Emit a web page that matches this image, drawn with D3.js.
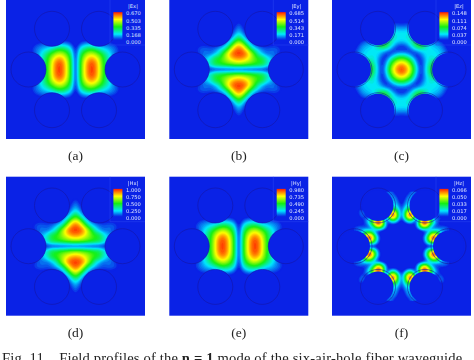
<!DOCTYPE html>
<html>
<head>
<meta charset="utf-8">
<script src="https://cdn.jsdelivr.net/npm/d3@7"></script>
<style>
    html, body { margin: 0; padding: 0; background: white; overflow: hidden; }
    svg { display: block; filter: blur(0.35px); }
</style>
</head>
<body>
<div id="chart"></div>
<script>
// Panel labels and legend texts
const panelLabels = ["(a)", "(b)", "(c)", "(d)", "(e)", "(f)"];
const fieldTitles = ["|Ex|", "|Ey|", "|Ez|", "|Hx|", "|Hy|", "|Hz|"];
const tickLabels = [
    ["0.670", "0.503", "0.335", "0.168", "0.000"],
    ["0.685", "0.514", "0.343", "0.171", "0.000"],
    ["0.148", "0.111", "0.074", "0.037", "0.000"],
    ["1.000", "0.750", "0.500", "0.250", "0.000"],
    ["0.980", "0.735", "0.490", "0.245", "0.000"],
    ["0.066", "0.050", "0.033", "0.017", "0.000"]
];
const tickLevels = [100, 75, 50, 25, 0];

// Air holes of the fiber, angle around the core in degrees
const holeAngles = [0, 60, 120, 180, 240, 300];
const holePitch = 47;
const holeRadius = 17.5;
// Radius where the drawn field stops, it runs a bit over the outline in (c) and (f)
const maskRadius = [17.5, 17.5, 16.5, 17.5, 17.5, 15.5];

// Field, percent of the panel maximum.
// One quadrant only (x to the right, y down from the core), rows are y, the
// profiles are mirror symmetric. Ex and Hy have the same shape, so do Ey and Hx.
const fieldEx = [
    [0, 45, 72, 90, 100, 92, 74, 52, 42],
    [0, 45, 72, 90, 100, 92, 74, 52, 42],
    [0, 44, 70, 87, 95, 88, 72, 50, 38, 15],
    [0, 42, 64, 78, 85, 78, 66, 50, 36, 24, 10],
    [0, 36, 54, 66, 70, 64, 54, 42, 32, 22, 12, 5],
    [0, 28, 40, 48, 50, 45, 36, 28, 24, 18, 15, 8, 1],
    [0, 14, 24, 28, 28, 22, 16, 16, 16, 14, 10, 3],
    [0, 5, 8, 8, 8, 6, 4, 4, 6, 4, 3, 1],
    [0, 1, 1, 1]
];
const fieldEy = [
    [0],
    [55, 54, 52, 50, 48, 46, 44, 32, 24, 15, 8],
    [78, 76, 70, 65, 58, 52, 48, 35, 26, 16, 8],
    [92, 90, 82, 70, 58, 50, 45, 30, 22, 14, 8],
    [100, 98, 90, 72, 52, 30, 20, 12, 14, 14, 8, 3],
    [96, 90, 72, 48, 32, 22, 15, 13, 14, 14, 12, 6, 1],
    [85, 75, 50, 28, 14, 8, 6, 6, 7, 8, 6, 2],
    [65, 50, 28, 12, 4, 2, 0, 0, 2, 3, 2],
    [45, 30, 12, 3],
    [28, 17, 5, 1],
    [20, 10, 3],
    [14, 6, 1],
    [8, 2],
    [3],
    [0]
];
const fieldEz = [
    [100, 92, 78, 52, 22, 5, 25, 42, 62, 58, 50],
    [92, 85, 70, 46, 18, 5, 24, 40, 56, 50, 40, 30],
    [76, 70, 56, 35, 12, 6, 22, 32, 44, 36, 30, 20],
    [52, 46, 35, 20, 6, 10, 24, 30, 28, 26, 24, 16],
    [22, 20, 13, 5, 8, 20, 27, 28, 28, 26, 22, 14, 6],
    [7, 6, 8, 20, 30, 30, 28, 28, 26, 24, 20, 12, 4],
    [8, 12, 24, 38, 52, 58, 40, 25, 22, 20, 16, 6, 2],
    [24, 26, 30, 40, 50, 40, 30, 20, 15, 12, 8, 3],
    [28, 28, 32, 38, 40, 30, 20, 10, 4, 2],
    [28, 28, 30, 30, 25, 15],
    [22, 22, 24, 20],
    [12, 12, 14],
    [5, 5, 5],
    [0]
];
const fieldHz = [
    [0],
    [0, 0, 0, 0, 0, 0, 0, 3, 14, 32, 40, 45, 45, 40, 20],
    [0, 0, 0, 0, 0, 0, 0, 6, 22, 55, 85, 95, 92, 60, 30],
    [0, 0, 0, 0, 0, 0, 2, 7, 25, 60, 95, 95, 80, 50, 30],
    [0, 0, 0, 0, 0, 0, 0, 4, 14, 38, 70, 78, 60, 36, 20, 15, 8],
    [0, 0, 0, 0, 0, 0, 1, 3, 10, 20, 34, 42, 40, 24, 14, 10, 8, 3],
    [0, 0, 0, 0, 2, 8, 24, 42, 46, 30, 14, 12, 14, 16, 18, 15, 8, 5, 2],
    [0, 0, 2, 3, 2, 14, 52, 85, 92, 64, 36, 16, 8, 7, 6, 5, 4, 2],
    [0, 8, 18, 24, 12, 8, 60, 95, 100, 82, 50, 28, 12, 5, 2],
    [6, 24, 52, 68, 40, 8, 50, 85, 90, 70, 50, 24, 14, 6, 3],
    [10, 40, 82, 96, 80, 25, 0, 0, 0, 0, 0, 0, 8, 15, 7],
    [12, 38, 78, 100, 70, 15, 0, 0, 0, 0, 0, 0, 8, 18, 12, 3],
    [10, 32, 55, 62, 40, 8, 0, 0, 0, 0, 0, 0, 0, 12, 10, 2],
    [8, 22, 36, 38, 22, 0, 0, 0, 0, 0, 0, 0, 0, 0, 5, 2],
    [4, 15, 26, 24, 14, 0, 0, 0, 0, 0, 0, 0, 0, 0, 4, 1],
    [2, 10, 22, 22, 12],
    [1, 5, 18, 20, 12],
    [0, 3, 10, 18, 18],
    [0, 0, 3, 10, 16, 16]
];
const panelFields = [fieldEx, fieldEy, fieldEz, fieldEy, fieldEx, fieldHz];
const panelSteps = [4, 4, 4, 4, 4, 3];

// Layout
const width = 474;
const height = 360;
const panelSize = 139;
const panelX = [6, 169.3, 332, 6, 169.3, 332];
const panelY = [0, 0, 0, 176.7, 176.7, 176.7];
const labelY = [160, 160, 160, 337, 337, 337];
const upsample = 3;

const backColor = "#0a22e6";

// Same colour scale in every panel
const color = d3.scaleLinear()
    .domain([0, 6, 25, 50, 75, 100])
    .range([backColor, backColor, "#00e8ff", "#14f014", "#ffff00", "#ff1c00"])
    .clamp(true);

const svg = d3.select("#chart").append("svg")
    .attr("width", width)
    .attr("height", height);

const defs = svg.append("defs");

// Legend colour bar
const barGradient = defs.append("linearGradient")
    .attr("id", "barGradient")
    .attr("x1", 0).attr("y1", 1)
    .attr("x2", 0).attr("y2", 0);
barGradient.selectAll("stop")
    .data(d3.range(0, 101, 5))
    .enter().append("stop")
    .attr("offset", d => d + "%")
    .attr("stop-color", d => color(d));

// Turns the quadrant rows into a full grid of doubles
function fullGrid(rows) {
    const n = d3.max(rows, r => r.length);
    const cols = 2 * n - 1;
    const nRows = 2 * rows.length - 1;
    const at = (i, j) => {
        const r = rows[Math.abs(j - rows.length + 1)];
        const v = r[Math.abs(i - n + 1)];
        return v === undefined ? 0 : v;
    };
    // Bilinear resampling, only so the contour bands come out smooth
    const w = (cols - 1) * upsample + 1;
    const h = (nRows - 1) * upsample + 1;
    const data = new Float64Array(w * h);
    for (let y = 0; y < h; y++) {
        for (let x = 0; x < w; x++) {
            const gx = x / upsample, gy = y / upsample;
            const i0 = Math.min(Math.floor(gx), cols - 2), j0 = Math.min(Math.floor(gy), nRows - 2);
            const fx = gx - i0, fy = gy - j0;
            data[y * w + x] = (1 - fy) * ((1 - fx) * at(i0, j0) + fx * at(i0 + 1, j0))
                + fy * ((1 - fx) * at(i0, j0 + 1) + fx * at(i0 + 1, j0 + 1));
        }
    }
    return {data: data, width: w, height: h, halfX: n - 1, halfY: rows.length - 1};
}

panelLabels.forEach(function(label, p) {
    const g = svg.append("g")
        .attr("transform", `translate(${panelX[p]},${panelY[p]})`);

    const x = d3.scaleLinear().domain([-panelSize / 2, panelSize / 2]).range([0, panelSize]);
    const y = d3.scaleLinear().domain([-panelSize / 2, panelSize / 2]).range([0, panelSize]);

    g.append("rect")
        .attr("width", panelSize)
        .attr("height", panelSize)
        .attr("fill", backColor);

    // Field as filled contour bands
    const grid = fullGrid(panelFields[p]);
    d3.blur2(grid, 1);
    const step = panelSteps[p];
    const project = d3.geoTransform({
        point: function(px, py) {
            this.stream.point(
                x(((px - 0.5) / upsample - grid.halfX) * step),
                y(((py - 0.5) / upsample - grid.halfY) * step)
            );
        }
    });
    const contours = d3.contours()
        .size([grid.width, grid.height])
        .thresholds(d3.range(6, 100, 2.5))(Array.from(grid.data));
    g.append("g").selectAll("path")
        .data(contours)
        .enter().append("path")
        .attr("d", d3.geoPath(project))
        .attr("fill", d => color(d.value));

    // Air holes, the field stops at their edge
    g.append("g").selectAll("circle")
        .data(holeAngles)
        .enter().append("circle")
        .attr("cx", d => x(holePitch * Math.cos(d * Math.PI / 180)))
        .attr("cy", d => y(holePitch * Math.sin(d * Math.PI / 180)))
        .attr("r", maskRadius[p])
        .attr("fill", backColor);

    g.append("g").selectAll("circle")
        .data(holeAngles)
        .enter().append("circle")
        .attr("cx", d => x(holePitch * Math.cos(d * Math.PI / 180)))
        .attr("cy", d => y(holePitch * Math.sin(d * Math.PI / 180)))
        .attr("r", holeRadius)
        .attr("fill", "none")
        .attr("stroke", "#1616a4")
        .attr("stroke-width", 0.6);

    // Legend box in the corner
    g.append("path")
        .attr("d", `M104,0V45H${panelSize}`)
        .attr("fill", "none")
        .attr("stroke", "#2a46f0")
        .attr("stroke-width", 0.5);

    const legendY = d3.scaleLinear().domain([0, 100]).range([41.5, 13.3]);

    g.append("rect")
        .attr("x", 107.4)
        .attr("y", legendY(104))
        .attr("width", 9)
        .attr("height", legendY(0) - legendY(104))
        .attr("fill", "url(#barGradient)");

    const legendAxis = g.append("g")
        .attr("transform", "translate(120,0)")
        .call(d3.axisRight(legendY)
            .tickValues(tickLevels)
            .tickSize(0)
            .tickFormat((d, i) => tickLabels[p][i]));
    legendAxis.select(".domain").remove();
    legendAxis.selectAll("text")
        .attr("x", 0)
        .attr("fill", "#dfe6ff")
        .style("font-family", "DejaVu Sans")
        .style("font-size", "5.2px");

    g.append("text")
        .attr("x", 127)
        .attr("y", 8)
        .attr("text-anchor", "middle")
        .attr("fill", "#dfe6ff")
        .style("font-family", "DejaVu Sans")
        .style("font-size", "5.2px")
        .text(fieldTitles[p]);

    // Panel caption
    svg.append("text")
        .attr("x", panelX[p] + panelSize / 2)
        .attr("y", labelY[p])
        .attr("text-anchor", "middle")
        .attr("fill", "#222")
        .style("font-family", "Liberation Serif")
        .style("font-size", "13.5px")
        .text(label);
});

// Figure caption, cut off by the bottom edge of the picture
const caption = svg.append("text")
    .attr("x", 2)
    .attr("y", 363)
    .attr("fill", "#222")
    .style("font-family", "Liberation Serif")
    .style("font-size", "14.6px")
    .style("letter-spacing", "0.16px")
    .attr("xml:space", "preserve");
caption.append("tspan").text("Fig. 11.   Field profiles of the ");
caption.append("tspan").style("font-weight", "bold").text("n = 1");
caption.append("tspan").text(" mode of the six-air-hole fiber waveguide");
</script>
</body>
</html>
